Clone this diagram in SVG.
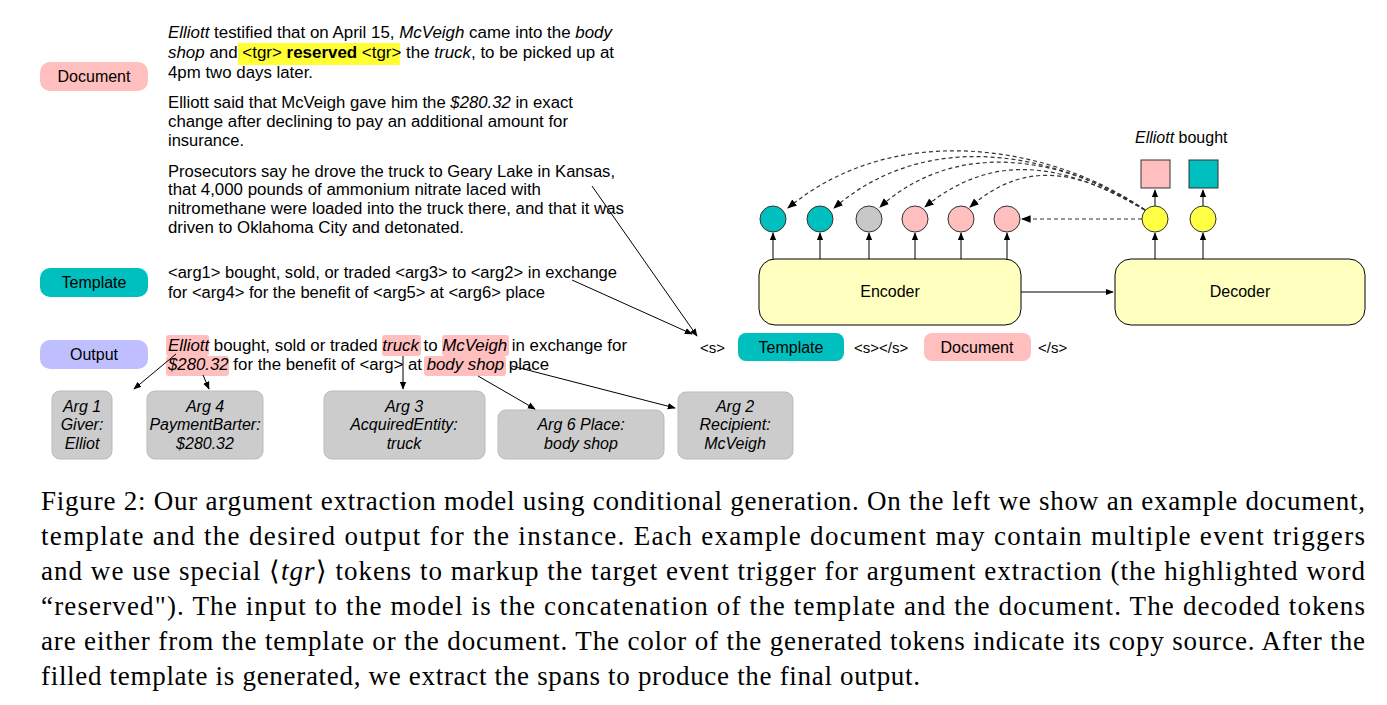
<svg xmlns="http://www.w3.org/2000/svg" width="1387" height="705" viewBox="0 0 1387 705">
<defs>
<style>
text{font-family:"Liberation Sans",Arial,sans-serif;font-size:15px;fill:#000}
.t{font-size:16px}
.i{font-style:italic}
.b{font-weight:bold}
.c{text-anchor:middle}
.cap{font-family:"Liberation Serif","Times New Roman",serif;font-size:27px}
.ln{stroke:#000;stroke-width:1;fill:none}
.dash{stroke:#333;stroke-width:1.2;fill:none;stroke-dasharray:4 3}
.arg{fill:#cccccc;stroke:#bbb}
.hl{fill:#ffbfbf}
</style>
<marker id="ah" viewBox="0 0 10 10" refX="9" refY="5" markerWidth="8" markerHeight="8" orient="auto-start-reverse"><path d="M0,1 L10,5 L0,9 z" fill="#000"/></marker>
</defs>
<rect width="1387" height="705" fill="#fff"/>

<g id="label-document"><rect x="40" y="62" width="108" height="29" rx="10" fill="#ffbfbf"/><text x="94" y="82" class="c t">Document</text></g>
<g id="label-template"><rect x="40" y="268" width="108" height="29" rx="10" fill="#00bfbf"/><text x="94" y="288" class="c t">Template</text></g>
<g id="label-output"><rect x="40" y="340" width="108" height="29" rx="10" fill="#bfbfff"/><text x="94" y="360" class="c t">Output</text></g>

<g id="document-text">
<rect x="238" y="43" width="162" height="22" fill="#ffff33"/>
<text class="t" x="168" y="38" textLength="444" lengthAdjust="spacingAndGlyphs"><tspan class="i">Elliott</tspan> testified that on April 15, <tspan class="i">McVeigh</tspan> came into the <tspan class="i">body</tspan></text>
<text class="t" x="168" y="58" textLength="446" lengthAdjust="spacingAndGlyphs"><tspan class="i">shop</tspan> and <tspan>&lt;tgr&gt; </tspan><tspan class="b">reserved</tspan> &lt;tgr&gt; the <tspan class="i">truck</tspan>, to be picked up at</text>
<text class="t" x="168" y="78" textLength="145" lengthAdjust="spacingAndGlyphs">4pm two days later.</text>
<text class="t" x="168" y="108" textLength="405" lengthAdjust="spacingAndGlyphs">Elliott said that McVeigh gave him the <tspan class="i">$280.32</tspan> in exact</text>
<text class="t" x="168" y="127" textLength="400" lengthAdjust="spacingAndGlyphs">change after declining to pay an additional amount for</text>
<text class="t" x="168" y="146" textLength="76" lengthAdjust="spacingAndGlyphs">insurance.</text>
<text class="t" x="168" y="177" textLength="447" lengthAdjust="spacingAndGlyphs">Prosecutors say he drove the truck to Geary Lake in Kansas,</text>
<text class="t" x="168" y="195" textLength="373" lengthAdjust="spacingAndGlyphs">that 4,000 pounds of ammonium nitrate laced with</text>
<text class="t" x="168" y="214" textLength="456" lengthAdjust="spacingAndGlyphs">nitromethane were loaded into the truck there, and that it was</text>
<text class="t" x="168" y="233" textLength="296" lengthAdjust="spacingAndGlyphs">driven to Oklahoma City and detonated.</text>
</g>

<g id="template-text">
<text class="t" x="168" y="278" textLength="449" lengthAdjust="spacingAndGlyphs">&lt;arg1&gt; bought, sold, or traded &lt;arg3&gt; to &lt;arg2&gt; in exchange</text>
<text class="t" x="168" y="298" textLength="377" lengthAdjust="spacingAndGlyphs">for &lt;arg4&gt; for the benefit of &lt;arg5&gt; at &lt;arg6&gt; place</text>
</g>

<g id="output-text">
<rect class="hl" x="166" y="335" width="43" height="21" rx="3"/>
<rect class="hl" x="382" y="335" width="39" height="21" rx="3"/>
<rect class="hl" x="442" y="335" width="67" height="21" rx="3"/>
<rect class="hl" x="166" y="356" width="63" height="20" rx="3"/>
<rect class="hl" x="424" y="356" width="82" height="20" rx="3"/>
<text class="t" x="168" y="351" textLength="459" lengthAdjust="spacingAndGlyphs"><tspan class="i">Elliott</tspan> bought, sold or traded <tspan class="i">truck</tspan> to <tspan class="i">McVeigh</tspan> in exchange for</text>
<text class="t" x="168" y="370" textLength="381" lengthAdjust="spacingAndGlyphs"><tspan class="i">$280.32</tspan> for the benefit of &lt;arg&gt; at <tspan class="i">body shop</tspan> place</text>
</g>

<g id="arg1"><rect class="arg" x="52" y="391" width="60" height="68" rx="8"/><text class="c i t" x="82" y="412">Arg 1</text><text class="c i t" x="82" y="430">Giver:</text><text class="c i t" x="82" y="449">Elliot</text></g>
<g id="arg4"><rect class="arg" x="147" y="391" width="116" height="68" rx="8"/><text class="c i t" x="205" y="412">Arg 4</text><text class="c i t" x="205" y="430">PaymentBarter:</text><text class="c i t" x="205" y="449">$280.32</text></g>
<g id="arg3"><rect class="arg" x="324" y="391" width="161" height="68" rx="8"/><text class="c i t" x="404" y="412">Arg 3</text><text class="c i t" x="404" y="430">AcquiredEntity:</text><text class="c i t" x="404" y="449">truck</text></g>
<g id="arg6"><rect class="arg" x="498" y="410" width="166" height="49" rx="8"/><text class="c i t" x="581" y="430">Arg 6 Place:</text><text class="c i t" x="581" y="449">body shop</text></g>
<g id="arg2"><rect class="arg" x="678" y="392" width="115" height="67" rx="8"/><text class="c i t" x="735" y="412">Arg 2</text><text class="c i t" x="735" y="430">Recipient:</text><text class="c i t" x="735" y="449">McVeigh</text></g>

<g id="encoder"><rect x="759" y="259" width="262" height="66" rx="16" fill="#ffffc0" stroke="#000"/><text class="c t" x="890" y="297">Encoder</text></g>
<g id="decoder"><rect x="1115" y="259" width="250" height="66" rx="16" fill="#ffffc0" stroke="#000"/><text class="c t" x="1240" y="297">Decoder</text></g>

<g id="enc-tokens" stroke="#333">
<circle cx="773" cy="219" r="13" fill="#00bfbf"/>
<circle cx="820" cy="219" r="13" fill="#00bfbf"/>
<circle cx="869" cy="219" r="13" fill="#c8c8c8"/>
<circle cx="915" cy="219" r="13" fill="#ffbfbf"/>
<circle cx="961" cy="219" r="13" fill="#ffbfbf"/>
<circle cx="1007" cy="219" r="13" fill="#ffbfbf"/>
</g>
<g id="dec-tokens" stroke="#333">
<circle cx="1155" cy="219" r="13" fill="#ffff44"/>
<circle cx="1203" cy="219" r="13" fill="#ffff44"/>
<rect x="1141" y="160" width="29" height="28" fill="#ffbfbf"/>
<rect x="1189" y="160" width="29" height="28" fill="#00bfbf"/>
</g>
<text class="t" x="1135" y="143"><tspan class="i">Elliott</tspan>  bought</text>

<g id="input-seq">
<text x="700" y="353">&lt;s&gt;</text>
<rect x="738" y="333" width="106" height="28" rx="8" fill="#00bfbf"/><text class="c t" x="791" y="353">Template</text>
<text x="854" y="353">&lt;s&gt;&lt;/s&gt;</text>
<rect x="924" y="333" width="107" height="28" rx="8" fill="#ffbfbf"/><text class="c t" x="977" y="353">Document</text>
<text x="1038" y="353">&lt;/s&gt;</text>
</g>

<g id="connectors">
<line class="ln" x1="773" y1="259" x2="773" y2="233" marker-end="url(#ah)"/>
<line class="ln" x1="820" y1="259" x2="820" y2="233" marker-end="url(#ah)"/>
<line class="ln" x1="869" y1="259" x2="869" y2="233" marker-end="url(#ah)"/>
<line class="ln" x1="915" y1="259" x2="915" y2="233" marker-end="url(#ah)"/>
<line class="ln" x1="961" y1="259" x2="961" y2="233" marker-end="url(#ah)"/>
<line class="ln" x1="1007" y1="259" x2="1007" y2="233" marker-end="url(#ah)"/>
<line class="ln" x1="1155" y1="259" x2="1155" y2="233" marker-end="url(#ah)"/>
<line class="ln" x1="1203" y1="259" x2="1203" y2="233" marker-end="url(#ah)"/>
<line class="ln" x1="1155" y1="206" x2="1155" y2="190" marker-end="url(#ah)"/>
<line class="ln" x1="1203" y1="206" x2="1203" y2="190" marker-end="url(#ah)"/>
<line class="ln" x1="1021" y1="292" x2="1113" y2="292" marker-end="url(#ah)"/>
<line class="dash" x1="1142" y1="219" x2="1022" y2="219" marker-end="url(#ah)"/>
<path class="dash" d="M1145,210 C1060,150 900,115 788,208" marker-end="url(#ah)"/>
<path class="dash" d="M1145,210 C1060,155 930,125 834,208" marker-end="url(#ah)"/>
<path class="dash" d="M1145,210 C1070,160 960,135 880,207" marker-end="url(#ah)"/>
<path class="dash" d="M1145,210 C1075,170 1000,145 925,207" marker-end="url(#ah)"/>
<path class="dash" d="M1145,210 C1085,175 1030,155 970,207" marker-end="url(#ah)"/>
<line class="ln" x1="592" y1="186" x2="697" y2="336" marker-end="url(#ah)"/>
<line class="ln" x1="572" y1="280" x2="692" y2="334" marker-end="url(#ah)"/>
<line class="ln" x1="176" y1="354" x2="134" y2="389" marker-end="url(#ah)"/>
<line class="ln" x1="203" y1="375" x2="209" y2="389" marker-end="url(#ah)"/>
<line class="ln" x1="403" y1="356" x2="403" y2="389" marker-end="url(#ah)"/>
<line class="ln" x1="478" y1="376" x2="535" y2="409" marker-end="url(#ah)"/>
<line class="ln" x1="512" y1="366" x2="675" y2="408" marker-end="url(#ah)"/>
</g>

<g id="caption">
<text class="cap" x="41" y="510" textLength="1324" lengthAdjust="spacing">Figure 2: Our argument extraction model using conditional generation. On the left we show an example document,</text>
<text class="cap" x="41" y="545" textLength="1324" lengthAdjust="spacing">template and the desired output for the instance.  Each example document may contain multiple event triggers</text>
<text class="cap" x="41" y="580" textLength="1324" lengthAdjust="spacing">and we use special ⟨<tspan font-style="italic">tgr</tspan>⟩ tokens to markup the target event trigger for argument extraction (the highlighted word</text>
<text class="cap" x="41" y="615" textLength="1324" lengthAdjust="spacing">“reserved"). The input to the model is the concatenation of the template and the document. The decoded tokens</text>
<text class="cap" x="41" y="650" textLength="1324" lengthAdjust="spacing">are either from the template or the document. The color of the generated tokens indicate its copy source. After the</text>
<text class="cap" x="41" y="685" textLength="879" lengthAdjust="spacing">filled template is generated, we extract the spans to produce the final output.</text>
</g>
</svg>
